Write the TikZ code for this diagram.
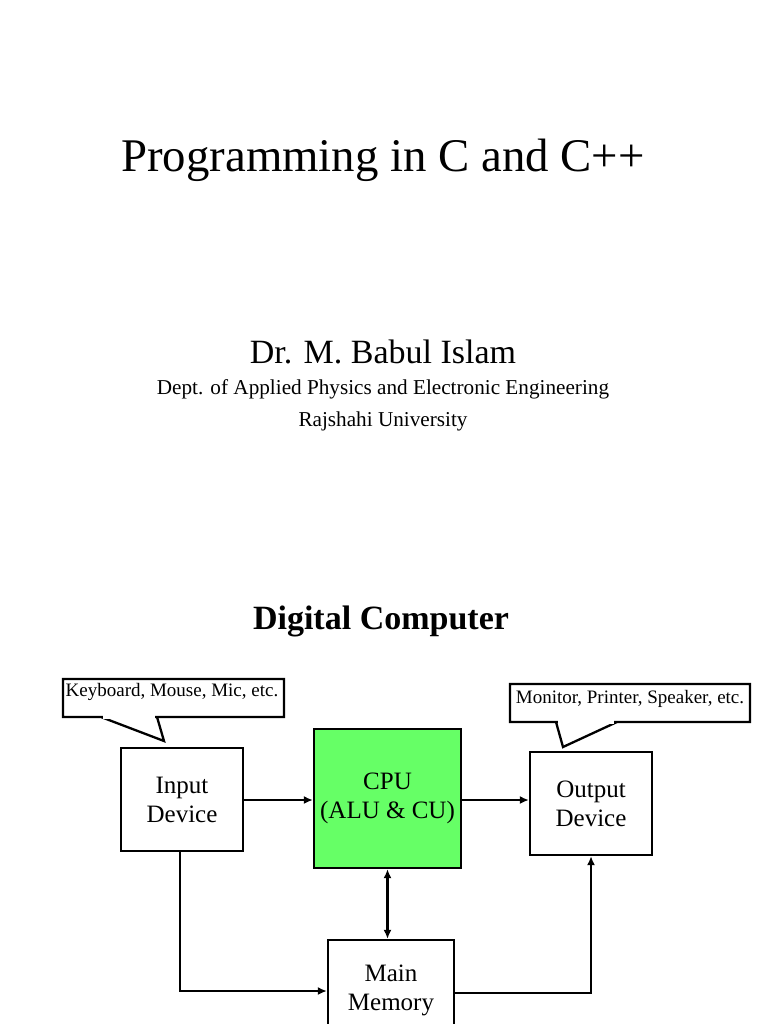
\documentclass[tikz,border=0pt]{standalone}
\usepackage{fontspec}
\setmainfont{Liberation Serif}
\begin{document}
\begin{tikzpicture}[x=1pt,y=-1pt,
  blk/.style={draw,line width=2.3pt,align=center,font=\fontsize{25}{29}\selectfont},
  arr/.style={line width=2.6pt,-{Latex[length=9pt,width=8pt]}},
  call/.style={draw,line width=2.3pt,fill=white,line join=miter}]
\usetikzlibrary{arrows.meta}
\useasboundingbox (0,0) rectangle (768,1024);
\fill[white] (0,0) rectangle (768,1024);
\node (title) at (383,160) {\fontsize{46.8}{52}\selectfont Programming in C and C++};
\node (auth) at (383,352) {\fontsize{34}{38}\selectfont Dr. M. Babul Islam};
\node (dept) at (383,389) {\fontsize{21.2}{24}\selectfont Dept. of Applied Physics and Electronic Engineering};
\node (univ) at (383,421) {\fontsize{21.2}{24}\selectfont Rajshahi University};
\node (dc) at (381,621) {\fontsize{34}{38}\selectfont\bfseries Digital Computer};
\node[blk,minimum width=122pt,minimum height=103pt] (in) at (182,799.5) {Input\\Device};
\node[blk,fill={rgb,255:red,102;green,255;blue,102},minimum width=147pt,minimum height=139pt] (cpu) at (387.5,798.5) {CPU\\(ALU \& CU)};
\node[blk,minimum width=122pt,minimum height=103pt] (out) at (591,803.5) {Output\\Device};
\node[blk,minimum width=126pt,minimum height=100pt] (mem) at (391,990) {Main\\Memory};
\draw[call] (63,679) rectangle (284,717) (101,717) -- (164,741) -- (157,717);
\fill[white] (103,714) rectangle (155,719);
\node[font=\fontsize{19}{22}\selectfont] (c1) at (172,692) {Keyboard, Mouse, Mic, etc.};
\draw[call] (510,684) rectangle (750,722) (556,722) -- (563,747) -- (617,722);
\fill[white] (558,719) rectangle (614,724);
\node[font=\fontsize{19}{22}\selectfont] (c2) at (630,699) {Monitor, Printer, Speaker, etc.};
\draw[arr] (in.east |- 0,800) -- (cpu.west |- 0,800);
\draw[arr] (cpu.east |- 0,800) -- (out.west |- 0,800);
\draw[line width=2.6pt,{Latex[length=9pt,width=8pt]}-{Latex[length=9pt,width=8pt]}] (cpu.south) -- (cpu.south |- mem.north);
\draw[arr] (180,851) |- (mem.west |- 0,991);
\draw[arr] (mem.east |- 0,993) -| (out.south);
\end{tikzpicture}
\end{document}
